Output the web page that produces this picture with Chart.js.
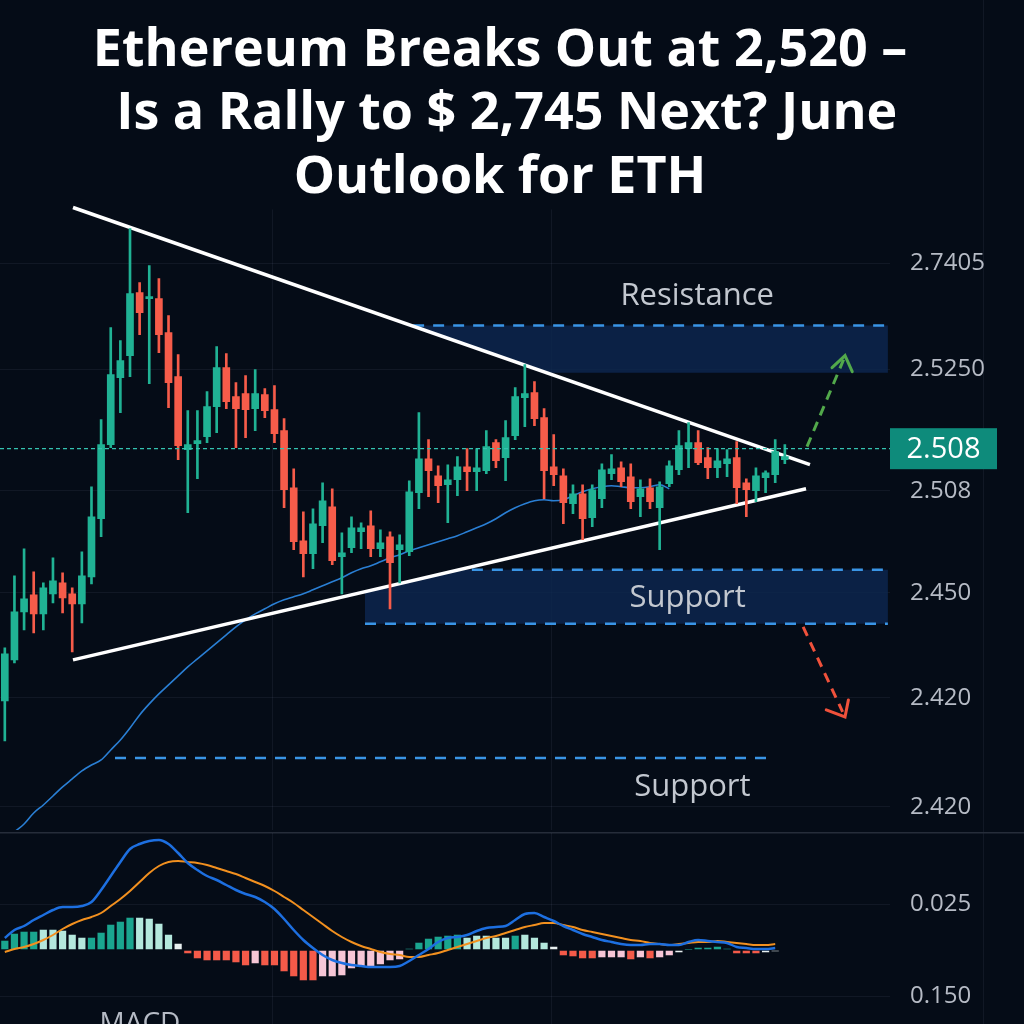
<!DOCTYPE html>
<html><head><meta charset="utf-8">
<script src="https://cdn.jsdelivr.net/npm/chart.js@4.4.1/dist/chart.umd.min.js"></script>
<style>
html,body{margin:0;padding:0;background:#050c17;overflow:hidden;width:1024px;height:1024px;}
#price{position:absolute;left:0;top:0;width:1024px;height:830px;}
#macd{position:absolute;left:0;top:830px;width:1024px;height:194px;}
</style></head><body>
<canvas id="price" width="1024" height="830"></canvas>
<canvas id="macd" width="1024" height="194"></canvas>
<script>
const titleLines = ['Ethereum Breaks Out at 2,520 –', ' Is a Rally to $ 2,745 Next? June', 'Outlook for ETH'];

const candleOpen = [2464.5,2485,2509,2517.5,2508,2518,2523.5,2518,2513,2526.5,
2555.5,2592.5,2626,2637,2668.5,2665.5,2665.5,2648.5,2626.5,2590,
2593,2596.5,2611.5,2631,2616.5,2618,2610.5,2617.5,2610,2599.5,
2571,2544.5,2538,2552,2561.5,2536.5,2541,2549,2552,2540.5,
2546.5,2540,2539,2568.5,2585.5,2577,2572.5,2575,2581.5,2579,
2579.5,2593.5,2586,2597,2616,2618.5,2606,2581.5,2577,2563,
2568,2556,2565.5,2578,2581,2576.5,2566.5,2571,2561,2573,
2580,2590.5,2593.5,2586,2581,2583,2586,2573.5,2569.5,2576,
2577.5,2585];
const candleHigh = [2491,2527,2540.5,2529,2523.5,2536,2528.5,2521,2539,2571.5,
2605,2651,2644.5,2700.5,2673.5,2682,2675.5,2657,2637.5,2609.5,
2609.5,2619,2641.5,2638,2623.5,2627,2630,2620.5,2622,2605.5,
2580.5,2559,2560.5,2573.5,2570.5,2548.5,2556.5,2553.5,2559.5,2550,
2549,2547.5,2574.5,2608.5,2595,2582,2582.5,2586.5,2590.5,2590.5,
2599.5,2595,2604.5,2621,2632.5,2624,2610.5,2597.5,2580.5,2572.5,
2572.5,2572.5,2583,2587.5,2584,2583,2575,2575.5,2574,2584.5,
2599.5,2603.5,2599.5,2591,2590.5,2590,2594,2575.5,2581,2579.5,
2595,2592.5];
const candleLow = [2444.5,2483.5,2500,2498.5,2500,2513.5,2508.5,2489,2503.5,2523,
2546.5,2591,2608.5,2626.5,2647.5,2623,2638.5,2611,2585,2558.5,
2575.5,2593.5,2598.5,2610.5,2591,2596,2599.5,2606,2593.5,2561,
2540,2526.5,2530.5,2543.5,2532.5,2518,2538.5,2540.5,2536.5,2536.5,
2510.5,2523.5,2537,2560.5,2566.5,2563.5,2553.5,2567,2569.5,2569.5,
2578,2581,2574.5,2595,2601.5,2602,2565.5,2572,2553,2558,
2545,2551.5,2561,2575,2571.5,2560.5,2556.5,2560.5,2540,2571.5,
2577.5,2581,2582.5,2575.5,2576,2576.5,2563,2556.5,2564,2568.5,
2573.5,2583];
const candleClose = [2488,2509,2515.5,2508,2521,2524.5,2516,2513,2527,2556.5,
2592.5,2627.5,2634.5,2668,2658.5,2666.5,2647.5,2623.5,2592,2592.5,
2594.5,2611.5,2631,2614,2610.5,2610,2618,2609.5,2598,2570,
2544,2538,2553,2564.5,2534.5,2538.5,2551,2551,2540.5,2543.5,
2533.5,2542.5,2569,2585.5,2579.5,2572,2575,2581.5,2579,2581,
2591.5,2584.5,2596,2616.5,2618,2605.5,2579.5,2577.5,2563.5,2568,
2555.5,2570,2580,2580.5,2574,2564,2570.5,2564,2571.5,2582,
2592,2593.5,2583.5,2581,2584.5,2585.5,2571,2570,2577,2578.5,
2589,2586.5];
const maValues = [2394,2399,2403,2408.5,2412.5,2417,2421.5,2425.5,2429.5,2432.5,
2435,2440,2445,2451,2457.5,2463,2468,2472.5,2477,2481.5,
2485.5,2489.5,2493.5,2497.5,2501.5,2505,2508,2510.5,2513,2515,
2516.5,2518,2520,2522,2524,2526,2528.5,2530.5,2532,2534,
2536,2537.5,2539.5,2541,2542.5,2544,2545.5,2547,2549,2551,
2553,2555.5,2558.5,2561,2563,2564.5,2565,2564.5,2565,2567,
2569,2570.5,2571.5,2572,2571.5,2571,2571,2571.5,2572.5,2570.5];

const histValues = [1.0,1.7,1.9,1.9,2.1,2.1,2.0,1.6,1.3,1.3,
1.8,2.6,2.9,3.3,3.3,3.2,2.7,1.6,0.7,-0.4,
-0.9,-1.1,-1.1,-1.1,-1.3,-1.6,-1.4,-1.6,-1.6,-2.2,
-2.7,-3.1,-3.1,-2.7,-2.7,-2.6,-1.9,-1.7,-1.7,-1.5,
-1.1,-1.0,0.2,0.8,1.2,1.4,1.5,1.6,1.3,1.5,
1.5,1.3,1.3,1.5,1.6,1.3,0.8,0.4,-0.6,-0.7,
-0.9,-0.9,-0.8,-0.8,-0.8,-1.0,-0.8,-0.9,-0.8,-0.6,
-0.3,0.1,0.3,0.3,0.4,0.2,-0.4,-0.4,-0.4,-0.3,
-0.2];
const histTone = 'TTTTPPPPPTTTTTPPPPWRRRRRRRKRRRRRRKKKKKKKKKTTTTTTPPPPPTPPPWRRRRKKKRKRKKWTTTTTRRRWW'.split('');
const macdValues = [1.2,2.0,2.4,3.0,3.5,4.0,4.3,4.3,4.4,4.8,
6.0,7.4,8.8,10.1,10.6,10.9,11.0,10.6,9.7,8.7,
8.0,7.4,7.0,6.5,6.0,5.6,5.3,4.8,4.1,3.1,
2.0,1.0,0.2,-0.5,-1.0,-1.3,-1.5,-1.6,-1.7,-1.7,
-1.7,-1.6,-1.1,-0.5,0.1,0.8,1.2,1.3,1.5,1.9,
2.2,2.3,2.4,3.0,3.6,3.7,3.3,2.9,2.4,2.0,
1.6,1.3,1.0,0.8,0.6,0.5,0.5,0.6,0.6,0.5,
0.5,0.8,1.0,0.9,0.8,0.7,0.3,0.2,0.1,0.1,
0.2];
const signalValues = [-0.2,0.1,0.3,0.6,1.0,1.5,2.1,2.6,3.0,3.3,
3.7,4.4,5.1,5.9,6.8,7.7,8.4,8.8,8.9,8.8,
8.7,8.5,8.2,7.9,7.6,7.2,6.8,6.4,5.9,5.3,
4.7,4.0,3.3,2.6,1.9,1.3,0.8,0.4,0.1,-0.2,
-0.4,-0.5,-0.7,-0.7,-0.5,-0.3,0.0,0.3,0.6,0.9,
1.2,1.4,1.7,2.0,2.3,2.5,2.7,2.7,2.5,2.3,
2.0,1.8,1.6,1.4,1.2,1.0,0.9,0.7,0.6,0.5,
0.6,0.7,0.8,0.8,0.9,0.8,0.7,0.6,0.5,0.5,
0.6];

const priceTickValues = [2683, 2630, 2569.5, 2518.5, 2466, 2411.5];
const priceTickLabels = ['2.7405', '2.5250', '2.508', '2.450', '2.420', '2.420'];
const currentPrice = 2590.5;
const currentPriceLabel = '2.508';
const macdTickValues = [4.6, -4.6];
const macdTickLabels = ['0.025', '0.150'];
const gridX = [27.75, 56.8];

const trendUpperX = [7.08, 83.61], trendUpperY = [2711, 2582.5];
const trendLowerX = [7.08, 83.2], trendLowerY = [2485, 2570.5];
const resistanceZoneX = [42.2, 91.7, 91.7, 56.2, 42.2], resistanceZoneY = [2652, 2652, 2628.5, 2628.5, 2652];
const resistanceLineX = [42.4, 91.7], resistanceLineY = [2652, 2652];
const supportZoneX = [37.4, 47.15, 91.7, 91.7, 37.4, 37.4], supportZoneY = [2519, 2530, 2530, 2503, 2503, 2519];
const supportTopX = [48.5, 91.7], supportTopY = [2530, 2530];
const supportBottomX = [37.4, 91.7], supportBottomY = [2503, 2503];
const lowerSupportX = [11.44, 79.77], lowerSupportY = [2436, 2436];
const upArrowX = [83.3, 87.1], upArrowY = [2591.5, 2635];
const upHeadX = [85.9, 87.25, 88.0], upHeadY = [2631, 2637, 2629];
const downArrowX = [82.9, 87.0], downArrowY = [2501.5, 2459];
const downHeadX = [85.3, 87.25, 87.6], downHeadY = [2460, 2456.5, 2465];
const zoneLabelText = ['Resistance', 'Support', 'Support'];
const zoneLabelX = [71.9, 70.9, 71.4];
const zoneLabelY = [2666.5, 2516, 2421.5];
const macdLabelText = 'MACD', macdLabelX = 14.04, macdLabelY = -8.2;

const X_MIN = -0.5, X_MAX = 91.92;
const UP = '#20b294', DOWN = '#f65c4a';
const GRID = 'rgba(140,160,190,0.09)';
const TICK = '#b6bbc5';
const ZONE_FILL = 'rgba(13,40,82,0.78)';
const ZONE_LINE = '#3a95e6';
const toneColor = {T: '#1aa58f', P: '#b4e8dd', W: '#e8f0f0', R: '#f45a49', K: '#f6c6d6'};

Chart.defaults.font.family = "'Open Sans', 'Noto Sans', sans-serif";
Chart.defaults.animation = false;

const pts = (xs, ys) => xs.map((x, i) => ({x, y: ys[i]}));
const idx = candleOpen.map((_, i) => i);
const candleColor = idx.map(i => candleClose[i] >= candleOpen[i] ? UP : DOWN);
const lineBase = {type: 'line', pointRadius: 0, pointHoverRadius: 0, fill: false, tension: 0};

const xScale = {
  type: 'linear', min: X_MIN, max: X_MAX, offset: false,
  afterBuildTicks(s) { s.ticks = gridX.map(v => ({value: v})); },
  ticks: {display: false},
  grid: {color: GRID, drawTicks: false, offset: false},
  border: {display: false}
};

function yScale(min, max, values, labels) {
  return {
    type: 'linear', position: 'right', min, max, beginAtZero: false,
    afterBuildTicks(s) { s.ticks = values.map(v => ({value: v})); },
    afterFit(s) { s.width = 110; s.paddingTop = 0; s.paddingBottom = 0; },
    ticks: {callback: (v, i) => labels[i], color: TICK, font: {size: 24}, padding: 20},
    grid: {color: GRID, drawTicks: false},
    border: {display: false}
  };
}

const pricePlugin = {
  id: 'priceOverlay',
  beforeDraw(chart) {
    const {ctx, chartArea} = chart;
    ctx.save();
    ctx.fillStyle = GRID;
    ctx.fillRect(chartArea.right + 93, 0, 1, chart.height);
    ctx.restore();
  },
  afterDatasetsDraw(chart) {
    const {ctx, scales: {x, y}} = chart;
    ctx.save();
    ctx.font = "400 31px 'Open Sans'";
    ctx.fillStyle = '#c3c8d0';
    ctx.textAlign = 'center';
    ctx.textBaseline = 'middle';
    zoneLabelText.forEach((t, i) => ctx.fillText(t, x.getPixelForValue(zoneLabelX[i]), y.getPixelForValue(zoneLabelY[i])));
    ctx.restore();
  },
  afterDraw(chart) {
    const {ctx, chartArea, scales: {y}} = chart;
    const py = y.getPixelForValue(currentPrice);
    ctx.save();
    ctx.fillStyle = '#0e8b7b';
    ctx.fillRect(chartArea.right, py - 20.5, 107, 41);
    ctx.fillStyle = '#ffffff';
    ctx.font = "400 29px 'Open Sans'";
    ctx.textAlign = 'center';
    ctx.textBaseline = 'middle';
    ctx.fillText(currentPriceLabel, chartArea.right + 53.5, py + 1);
    ctx.restore();
  }
};

new Chart(document.getElementById('price'), {
  type: 'line',
  data: {
    datasets: [
      {...lineBase, data: pts([X_MIN, X_MAX], [currentPrice, currentPrice]), borderColor: '#34c3b1', borderWidth: 1.2, borderDash: [4, 3], order: 0},
      {...lineBase, data: pts(upArrowX, upArrowY), borderColor: '#52a94b', borderWidth: 3, borderDash: [10, 7], order: 1, clip: false},
      {...lineBase, data: pts(upHeadX, upHeadY), borderColor: '#52a94b', borderWidth: 3, borderCapStyle: 'round', order: 1, clip: false},
      {...lineBase, data: pts(downArrowX, downArrowY), borderColor: '#f0513b', borderWidth: 3, borderDash: [10, 7], order: 1, clip: false},
      {...lineBase, data: pts(downHeadX, downHeadY), borderColor: '#f0513b', borderWidth: 3, borderCapStyle: 'round', order: 1, clip: false},
      {type: 'bar', data: idx.map(i => ({x: i, y: [candleOpen[i], candleClose[i]]})), backgroundColor: candleColor, borderWidth: 0, barThickness: 7, grouped: false, order: 2},
      {type: 'bar', data: idx.map(i => ({x: i, y: [candleLow[i], candleHigh[i]]})), backgroundColor: candleColor, borderWidth: 0, barThickness: 2, grouped: false, order: 3},
      {...lineBase, data: pts(trendUpperX, trendUpperY), borderColor: '#ffffff', borderWidth: 3.5, order: 4, clip: false},
      {...lineBase, data: pts(trendLowerX, trendLowerY), borderColor: '#ffffff', borderWidth: 3.5, order: 4, clip: false},
      {...lineBase, data: maValues.map((v, i) => ({x: i, y: v})), borderColor: '#2a7fd4', borderWidth: 1.6, tension: 0.4, cubicInterpolationMode: 'monotone', order: 5},
      {...lineBase, data: pts(resistanceLineX, resistanceLineY), borderColor: ZONE_LINE, borderWidth: 2.5, borderDash: [11, 9], order: 6},
      {...lineBase, data: pts(supportTopX, supportTopY), borderColor: ZONE_LINE, borderWidth: 2.5, borderDash: [11, 9], order: 6},
      {...lineBase, data: pts(supportBottomX, supportBottomY), borderColor: ZONE_LINE, borderWidth: 2.5, borderDash: [11, 9], order: 6},
      {...lineBase, data: pts(lowerSupportX, lowerSupportY), borderColor: ZONE_LINE, borderWidth: 2.5, borderDash: [11, 9], order: 6},
      {...lineBase, data: pts(resistanceZoneX, resistanceZoneY), fill: 'shape', backgroundColor: ZONE_FILL, borderWidth: 0, borderColor: 'rgba(0,0,0,0)', order: 7},
      {...lineBase, data: pts(supportZoneX, supportZoneY), fill: 'shape', backgroundColor: ZONE_FILL, borderWidth: 0, borderColor: 'rgba(0,0,0,0)', order: 7}
    ]
  },
  options: {
    responsive: false,
    animation: false,
    layout: {padding: {top: 0, right: 24, bottom: 0, left: 0}},
    plugins: {
      legend: {display: false},
      tooltip: {enabled: false},
      title: {
        display: true, text: titleLines, color: '#ffffff',
        font: {size: 52, weight: 'bold', lineHeight: 1.2212},
        padding: {top: 19, bottom: 0}
      }
    },
    scales: {
      x: xScale,
      y: yScale(2400, 2710, priceTickValues, priceTickLabels)
    }
  },
  plugins: [pricePlugin]
});

const macdPlugin = {
  id: 'macdOverlay',
  beforeDraw(chart) {
    const {ctx, chartArea} = chart;
    ctx.save();
    ctx.fillStyle = GRID;
    ctx.fillRect(chartArea.right + 93, 0, 1, chart.height);
    ctx.fillStyle = '#262d3a';
    ctx.fillRect(0, 2, chart.width, 1.5);
    ctx.restore();
  },
  afterDraw(chart) {
    const {ctx, scales: {x, y}} = chart;
    ctx.save();
    ctx.font = "400 28px 'Open Sans'";
    ctx.fillStyle = '#b6bbc5';
    ctx.textAlign = 'center';
    ctx.textBaseline = 'alphabetic';
    ctx.fillText(macdLabelText, x.getPixelForValue(macdLabelX), y.getPixelForValue(macdLabelY));
    ctx.restore();
  }
};

new Chart(document.getElementById('macd'), {
  type: 'line',
  data: {
    datasets: [
      {...lineBase, data: macdValues.map((v, i) => ({x: i, y: v})), borderColor: '#1d6fe0', borderWidth: 2.5, tension: 0.4, cubicInterpolationMode: 'monotone', order: 0},
      {...lineBase, data: signalValues.map((v, i) => ({x: i, y: v})), borderColor: '#f2901f', borderWidth: 2, tension: 0.4, cubicInterpolationMode: 'monotone', order: 1},
      {type: 'bar', data: histValues.map((v, i) => ({x: i, y: v})), backgroundColor: histValues.map((_, i) => toneColor[histTone[i]]), borderColor: '#0a111c', borderWidth: 1, borderSkipped: false, barThickness: 8.5, grouped: false, order: 2}
    ]
  },
  options: {
    responsive: false,
    animation: false,
    layout: {padding: {top: 3, right: 24, bottom: 0, left: 0}},
    plugins: {legend: {display: false}, tooltip: {enabled: false}, title: {display: false}},
    scales: {
      x: xScale,
      y: yScale(-7.4, 11.7, macdTickValues, macdTickLabels)
    }
  },
  plugins: [macdPlugin]
});
</script></body></html>
